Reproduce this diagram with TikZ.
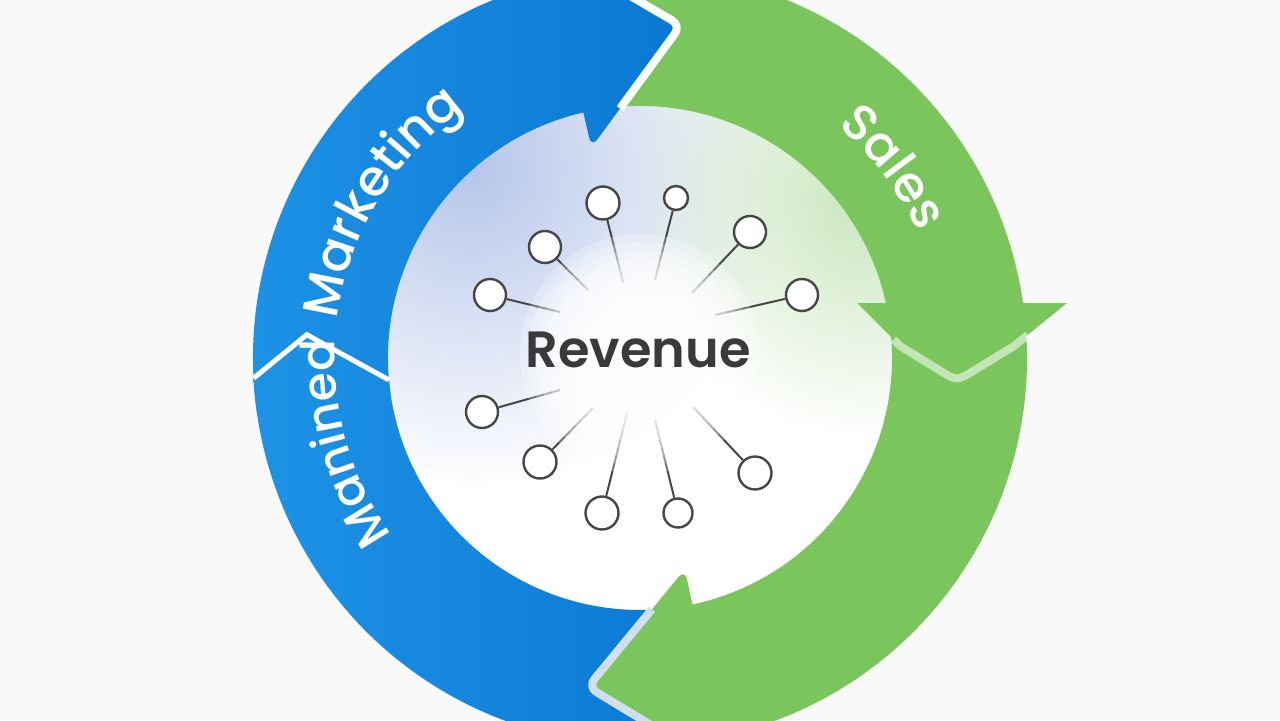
\documentclass[tikz,border=0pt]{standalone}
\usepackage{fontspec}
\setmainfont{Poppins}
\IfFontExistsTF{Poppins SemiBold}{\newfontfamily\revfont{Poppins SemiBold}}{\newcommand\revfont{\bfseries}}
\IfFontExistsTF{Poppins Medium}{\newfontfamily\ringfont{Poppins Medium}}{\newcommand\ringfont{}}
\usetikzlibrary{calc,decorations.text,fadings}
\definecolor{bgc}{HTML}{F9F9F9}
\definecolor{blueL}{HTML}{1E93E6}
\definecolor{blueR}{HTML}{0A78D4}
\definecolor{grn}{HTML}{7AC55C}
\definecolor{ink}{HTML}{3A3A3A}
\definecolor{spk}{HTML}{464646}
\definecolor{btint}{HTML}{B6C6EA}
\definecolor{gtint}{HTML}{C9E6BC}
\definecolor{outlb}{HTML}{D3DEEC}
\tikzfading[name=softglow, inner color=transparent!0, outer color=transparent!100]
\begin{document}
\begin{tikzpicture}[x=0.5pt, y=0.5pt,
  bluearrow/.style={left color=blueL, right color=blueR},
  greenarrow/.style={fill=grn},
  bluegap/.style={draw=white, line width=4pt, line join=round},
  greengap/.style={draw=white, draw opacity=0.55, line width=4pt, line join=round},
  bottomgap/.style={draw=outlb, line width=4pt, line join=round},
  chevgap/.style={draw=white, line width=2.5pt, line join=miter},
  dot/.style={circle, draw=spk, line width=1.2pt, fill=white, inner sep=0pt, minimum size=16pt},
  spoke/.style={draw=spk, line width=1pt},
  revlabel/.style={font=\revfont\fontsize{25.5}{25.5}\selectfont, text=ink, inner sep=0pt}
]
\useasboundingbox (0,0) rectangle (1280,720);
\fill[bgc] (0,0) rectangle (1280,720);
\begin{scope}
\clip (0,0) rectangle (1280,720);
\begin{scope}[shift={(640,362)}]
  % inner disc with soft tints
  \fill[white] (0,0) circle[radius=252];
  \begin{scope}
    \clip (0,0) circle[radius=252];
    \fill[btint, path fading=softglow] (-170,190) circle[radius=320];
    \fill[gtint, path fading=softglow] (230,160) circle[radius=240];
  \end{scope}
  % green upper body (Sales)
  \fill[greenarrow] (100:387) arc[start angle=100, end angle=7.42, radius=387]
     -- (11.44:252) arc[start angle=11.44, end angle=100, radius=252] -- cycle;
  % blue upper arrow (Marketing)
  \shade[bluearrow] (188:387) arc[start angle=188, end angle=103, radius=387]
     -- (103:423) [rounded corners=5pt] -- (83:335) -- (103:216) [sharp corners]
     -- (103:252) arc[start angle=103, end angle=188, radius=252] -- cycle;
  % blue lower segment
  \shade[bluearrow] (279:387) arc[start angle=279, end angle=183, radius=387]
     -- (176:334) -- (185:252) arc[start angle=185, end angle=279, radius=252] -- cycle;
  % green lower arrow
  \fill[greenarrow] (7.5:387) arc[start angle=7.5, end angle=-78, radius=387]
     -- (-78:423) [rounded corners=5pt] -- (-99:333) -- (-78:216) [sharp corners]
     -- (-78:252) arc[start angle=-78, end angle=7.5, radius=252] -- cycle;
  % green upper head
  \coordinate (gtip) at (317,-23);
  \fill[greenarrow] (217,55) -- (427,55) -- (374,12) -- ($(gtip)!0.3!(374,12)$)
     .. controls (gtip) .. ($(gtip)!0.3!(260,12)$) -- (260,12) -- cycle;
  % gaps / outlines
  \draw[bluegap] (103:423) [rounded corners=5pt] -- (83:335) -- ($(83:335)!0.68!(103:216)$);
  \draw[bottomgap] (-78:423) [rounded corners=5pt] -- (-99:333) -- ($(-99:333)!0.66!(-78:216)$);
  \draw[greengap] ($(427,55)!0.74!(374,12)$) -- (374,12) -- ($(gtip)!0.3!(374,12)$)
     .. controls (gtip) .. ($(gtip)!0.3!(260,12)$) -- (260,12) -- ($(260,12)!0.15!(217,55)$);
  \draw[chevgap] (183:387) -- (176:334) -- (185:252);
  % ring labels
  \path[decorate, decoration={text along path, text align=center, text color=white,
      text={|\ringfont\fontsize{25}{25}\selectfont|Marketing}}]
    (200:305) arc[start angle=200, end angle=98, radius=305];
  \path[decorate, decoration={text along path, text align=center, text color=white,
      text={|\ringfont\fontsize{23.5}{23.5}\selectfont|Manined}}]
    (236:305) arc[start angle=236, end angle=156, radius=305];
  \path[decorate, decoration={text along path, text align=center, text color=white,
      text={|\ringfont\fontsize{25}{25}\selectfont|Sales}}]
    (77:305) arc[start angle=77, end angle=-3, radius=305];
\end{scope}
\end{scope}
% spokes
\node[dot, minimum size=16.5pt] (d1) at (603,517) {};
\node[dot, minimum size=12pt] (d2) at (676,522) {};
\node[dot] (d3) at (545,473) {};
\node[dot] (d4) at (750,488) {};
\node[dot] (d5) at (490,425) {};
\node[dot] (d6) at (802,425) {};
\node[dot] (d7) at (482,308) {};
\node[dot, minimum size=16.5pt] (d8) at (540,258) {};
\node[dot, minimum size=16.5pt] (d9) at (755,247) {};
\node[dot, minimum size=16.5pt] (d10) at (602,207) {};
\node[dot, minimum size=14.5pt] (d11) at (678,207) {};
\coordinate (e1) at (623,438);
\coordinate (e2) at (655,440);
\coordinate (e3) at (588,430);
\coordinate (e4) at (692,427);
\coordinate (e5) at (560,408);
\coordinate (e6) at (715,405);
\coordinate (e7) at (560,330);
\coordinate (e8) at (593,312);
\coordinate (e9) at (693,313);
\coordinate (e10) at (627,307);
\coordinate (e11) at (655,300);
\foreach \i in {1,...,11} \draw[spoke] (d\i) -- (e\i);
% central glow
\foreach \r in {40,48,...,120} \fill[white, opacity=0.25] (640,366) circle[radius=\r];
\node[revlabel] (rev) at (638,370) {Revenue};
\end{tikzpicture}
\end{document}
